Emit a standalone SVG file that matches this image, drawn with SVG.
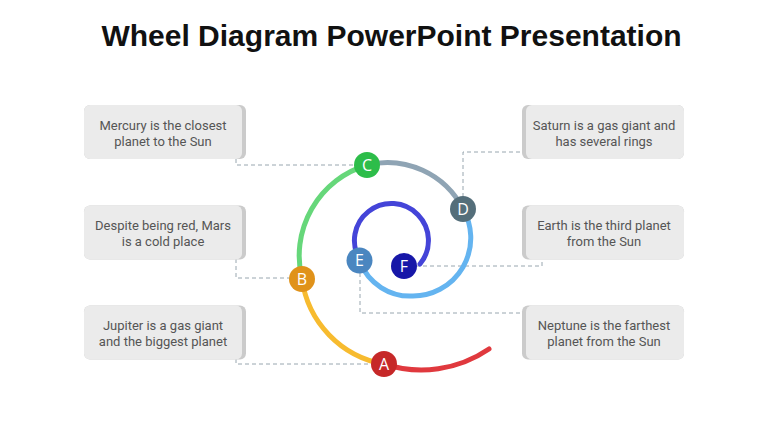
<svg xmlns="http://www.w3.org/2000/svg" width="768" height="432" viewBox="0 0 768 432">
<style>
.title{font-family:"Liberation Sans",Arial,sans-serif;font-weight:bold;font-size:30px;fill:#111}
.txt{font-family:Roboto,"Liberation Sans",sans-serif;font-size:13px;fill:#555;text-anchor:middle}
.edge{fill:#cbcbcb}
.face{fill:#ebebeb}
.dash{fill:none;stroke:#98a6af;stroke-width:1;stroke-dasharray:4 3}
.arc{fill:none;stroke-width:5;stroke-linecap:round}
.lbl{font-family:"Open Sans","Liberation Sans",sans-serif;font-size:16px;fill:#fff;text-anchor:middle}
</style>
<rect width="768" height="432" fill="#fff"/>
<text class="title" x="391.5" y="46" text-anchor="middle">Wheel Diagram PowerPoint Presentation</text>

<g id="connectors">
<path class="dash" d="M236,159 V165 H355"/>
<path class="dash" d="M236,259 V278 H290"/>
<path class="dash" d="M236,359 V364 H372"/>
<path class="dash" d="M463,197 V152 H523"/>
<path class="dash" d="M416,266 H542 V259"/>
<path class="dash" d="M360,273 V313 H523"/>
</g>

<g id="spiral">
<path class="arc" stroke="#e0393e" d="M384,364 A120 120 0 0 0 489,349"/>
<path class="arc" stroke="#f7bb2f" d="M302,279 A100 100 0 0 0 384,364"/>
<path class="arc" stroke="#66d77a" d="M367,165 A95 95 0 0 0 302,279"/>
<path class="arc" stroke="#8fa4b4" d="M367,165 A85 85 0 0 1 463,209"/>
<path class="arc" stroke="#64b4f0" d="M463,209 A58 58 0 0 1 413,296 A54 54 0 0 1 360,262"/>
<path class="arc" stroke="#4444d8" d="M360,260 A37 37 0 1 1 420,264"/>
</g>

<g id="node-a"><circle cx="384" cy="364" r="13" fill="#c62828"/><text class="lbl" x="384" y="369.8">A</text></g>
<g id="node-b"><circle cx="302" cy="279" r="13" fill="#e0921a"/><text class="lbl" x="302" y="284.8">B</text></g>
<g id="node-c"><circle cx="367" cy="165" r="13" fill="#2dbd4a"/><text class="lbl" x="367" y="170.8">C</text></g>
<g id="node-d"><circle cx="463" cy="209" r="13" fill="#546e7a"/><text class="lbl" x="463" y="214.8">D</text></g>
<g id="node-e"><circle cx="359.5" cy="260.5" r="13" fill="#4a86c0"/><text class="lbl" x="359.5" y="266.3">E</text></g>
<g id="node-f"><circle cx="404" cy="266" r="13" fill="#1717a8"/><text class="lbl" x="404" y="271.8">F</text></g>

<g id="box-mercury">
<rect class="edge" x="84" y="105" width="162" height="54" rx="6"/>
<rect class="face" x="84" y="105" width="158" height="54" rx="6"/>
<text class="txt" x="163" y="129.5">Mercury is the closest</text>
<text class="txt" x="163" y="145.5">planet to the Sun</text>
</g>
<g id="box-mars">
<rect class="edge" x="84" y="205.5" width="162" height="54" rx="6"/>
<rect class="face" x="84" y="205.5" width="158" height="54" rx="6"/>
<text class="txt" x="163" y="230">Despite being red, Mars</text>
<text class="txt" x="163" y="246">is a cold place</text>
</g>
<g id="box-jupiter">
<rect class="edge" x="84" y="305.5" width="162" height="54" rx="6"/>
<rect class="face" x="84" y="305.5" width="158" height="54" rx="6"/>
<text class="txt" x="163" y="330">Jupiter is a gas giant</text>
<text class="txt" x="163" y="346">and the biggest planet</text>
</g>
<g id="box-saturn">
<rect class="edge" x="522" y="105" width="162" height="54" rx="6"/>
<rect class="face" x="526" y="105" width="158" height="54" rx="6"/>
<text class="txt" x="604" y="129.5">Saturn is a gas giant and</text>
<text class="txt" x="604" y="145.5">has several rings</text>
</g>
<g id="box-earth">
<rect class="edge" x="522" y="205.5" width="162" height="54" rx="6"/>
<rect class="face" x="526" y="205.5" width="158" height="54" rx="6"/>
<text class="txt" x="604" y="230">Earth is the third planet</text>
<text class="txt" x="604" y="246">from the Sun</text>
</g>
<g id="box-neptune">
<rect class="edge" x="522" y="305.5" width="162" height="54" rx="6"/>
<rect class="face" x="526" y="305.5" width="158" height="54" rx="6"/>
<text class="txt" x="604" y="330">Neptune is the farthest</text>
<text class="txt" x="604" y="346">planet from the Sun</text>
</g>
</svg>
